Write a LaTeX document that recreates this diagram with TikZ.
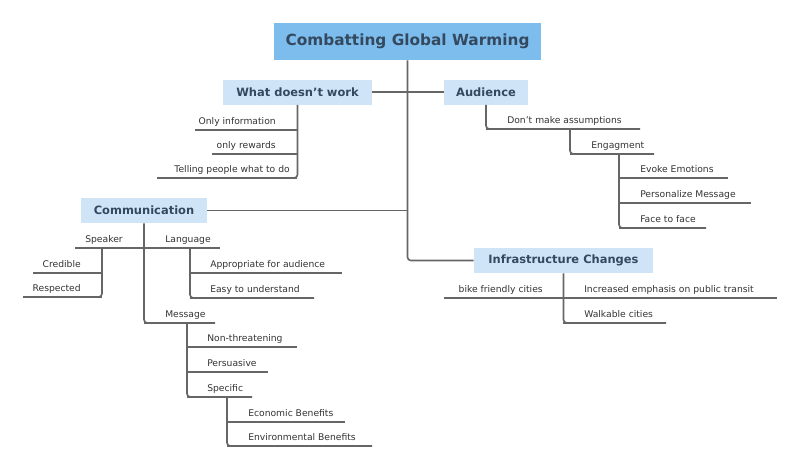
\documentclass[tikz,border=0pt]{standalone}
\usepackage{fontspec}
\setmainfont{DejaVu Sans}
\usetikzlibrary{positioning}

\definecolor{rootfill}{HTML}{7DBDEE}
\definecolor{subfill}{HTML}{CFE5F7}
\definecolor{ink}{HTML}{34495E}
\definecolor{wire}{HTML}{666666}

\begin{document}
\begin{tikzpicture}[%
    x=0.75pt, y=-0.75pt,        % work in reference pixels
    link/.style={draw=wire, line width=1.2pt, rounded corners=2.5pt},
    rootbox/.style={fill=rootfill, text=ink, font=\bfseries\fontsize{11.5}{13}\selectfont,
      minimum width=200pt, minimum height=27.75pt},
    topic/.style={fill=subfill, text=ink, font=\bfseries\fontsize{8.6}{10}\selectfont,
      minimum height=18.75pt, inner xsep=8pt},
    leaftxt/.style={font=\fontsize{6.9}{8}\selectfont, text=black!80, inner sep=0pt},
    ]
\useasboundingbox[fill=white] (0,0) rectangle (800,469);
% -------------------------------------------------
% leaf: name, underline from, underline to, y, text x, text
\newcommand\leafR[6]{% text ends left of the join
  \node[leaftxt, anchor=base east] (#1) at (#5,#4-6) {#6};
  \draw[link] (#2,#4) -- (#3,#4);}
\newcommand\leafL[6]{% text starts right of the join
  \node[leaftxt, anchor=base west] (#1) at (#5,#4-6) {#6};
  \draw[link] (#2,#4) -- (#3,#4);}
% -------------------------------------------------
% Main boxes
\node[rootbox] (root) at (407.5,41.5) {Combatting Global Warming};
\node[topic, minimum width=111.75pt] (dont) at (297.5,92) {What doesn't work};
\node[topic, minimum width=63pt] (aud) at (486,92) {Audience};
\node[topic, minimum width=94.5pt] (comm) at (144,210.5) {Communication};
\node[topic, minimum width=134.25pt] (infra) at (563.5,260.5) {Infrastructure Changes};

% trunk and branches
\draw[link] (root.south) |- (infra.west);
\draw[link] (dont.east) -- (407.5,92) -- (aud.west);
\draw[link] (comm.east) -- (407.5,210.5);

% What doesn't work
\draw[link] (dont.south) |- (157,178);
\leafR{info}{195}{297}{130}{276}{Only information}
\leafR{rew}{212}{297}{154}{276}{only rewards}
\leafR{tell}{157}{297}{178}{290}{Telling people what to do}

% Audience
\draw[link] (aud.south) |- (640,129);
\leafL{assume}{486}{640}{129}{507}{Don't make assumptions}
\draw[link] (570,129) |- (654,154);
\leafL{engage}{570}{654}{154}{591}{Engagment}
\draw[link] (619,154) |- (706,228);
\leafL{evoke}{619}{728}{178}{640}{Evoke Emotions}
\leafL{pers}{619}{751}{203}{640}{Personalize Message}
\leafL{face}{619}{706}{228}{640}{Face to face}

% Communication
\draw[link] (comm.south) |- (215,323);
\leafR{speak}{75}{144}{248}{123}{Speaker}
\leafL{lang}{144}{220}{248}{165}{Language}
\draw[link] (102,248) |- (23,297);
\leafR{cred}{33}{102}{273}{81}{Credible}
\leafR{resp}{23}{102}{297}{81}{Respected}
\draw[link] (190,248) |- (314,298);
\leafL{approp}{190}{342}{273}{210}{Appropriate for audience}
\leafL{easy}{190}{314}{298}{210}{Easy to understand}
\leafL{msg}{144}{215}{323}{165}{Message}
\draw[link] (187,323) |- (252,397);
\leafL{nonthr}{187}{297}{347}{207}{Non-threatening}
\leafL{persu}{187}{268}{372}{207}{Persuasive}
\leafL{spec}{187}{252}{397}{207}{Specific}
\draw[link] (227,397) |- (372,446);
\leafL{econ}{227}{345}{422}{248}{Economic Benefits}
\leafL{env}{227}{372}{446}{248}{Environmental Benefits}

% Infrastructure Changes
\draw[link] (infra.south) |- (666,323);
\leafR{bike}{444}{563}{298}{543}{bike friendly cities}
\leafL{transit}{563}{777}{298}{584}{Increased emphasis on public transit}
\leafL{walk}{563}{666}{323}{584}{Walkable cities}
% -------------------------------------------------
\end{tikzpicture}
\end{document}
